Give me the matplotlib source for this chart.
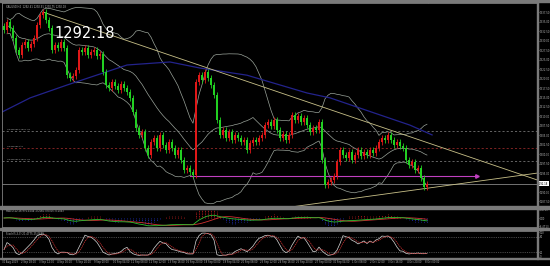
import numpy as np
import pandas as pd
import matplotlib
matplotlib.use("Agg")
import matplotlib.pyplot as plt
from matplotlib.patches import Rectangle
from matplotlib.transforms import blended_transform_factory as blend

W, H = 550, 266

# H4 closes
closes = [1332.9, 1335.0, 1333.4, 1330.7, 1327.6, 1326.2, 1328.9, 1329.7, 1328.1, 1329.2,
          1330.7, 1334.2, 1336.8, 1337.6, 1335.5, 1333.4, 1327.6, 1328.9, 1328.1, 1329.7,
          1328.1, 1320.9, 1320.2, 1320.7, 1322.3, 1327.6, 1327.0, 1328.1, 1326.2, 1327.0,
          1327.6, 1326.0, 1326.5, 1321.7, 1318.3, 1317.5, 1319.1, 1318.0, 1317.0, 1318.6,
          1317.5, 1316.5, 1314.9, 1311.2, 1306.9, 1305.1, 1305.9, 1301.6, 1299.8, 1303.2,
          1304.3, 1301.6, 1305.1, 1302.4, 1301.1, 1303.2, 1301.6, 1299.8, 1301.1, 1298.5,
          1295.8, 1296.3, 1295.3, 1294.5, 1319.1, 1320.9, 1319.6, 1321.7, 1320.2, 1318.3,
          1315.7, 1309.0, 1305.1, 1306.4, 1304.3, 1305.9, 1303.8, 1305.1, 1304.3, 1303.2,
          1303.8, 1301.1, 1303.0, 1303.8, 1303.2, 1304.3, 1305.1, 1307.7, 1308.5, 1307.5,
          1309.0, 1306.4, 1304.3, 1305.3, 1303.8, 1305.1, 1310.4, 1309.0, 1310.1, 1308.5,
          1309.6, 1307.7, 1305.9, 1306.9, 1306.4, 1308.5, 1298.5, 1291.8, 1292.6, 1293.2,
          1294.2, 1297.9, 1301.1, 1299.8, 1299.0, 1300.6, 1298.5, 1299.8, 1301.1, 1299.5,
          1300.6, 1299.8, 1301.1, 1300.3, 1301.6, 1303.2, 1304.3, 1303.8, 1305.1, 1303.8,
          1302.4, 1303.2, 1302.2, 1301.6, 1298.5, 1297.1, 1297.9, 1295.8, 1296.3, 1293.7,
          1291.3, 1292.18]
first_open = 1334.0

# long moving average (blue), sampled along the chart
ma_idx = [-1.3, 8.7, 21, 41, 55.3, 65.3, 81, 101, 108.7, 125.3, 135.3, 142.7]
ma_val = [1310.9, 1314.9, 1318.3, 1323.6, 1324.4, 1322.8, 1320.9, 1316.2, 1314.9, 1310.4, 1307.7, 1305.1]

trend_down = ([13, 177.7], [1337.6, 1293.2])
trend_up = ([95.3, 177.7], [1286.0, 1295.0])

order_levels = [1306.1, 1301.6, 1298.2]
order_labels = ["#44590512 sell 1.00", "#44590512 tp", "#44590513 sell 1.00"]
order_colors = ["#8c8c8c", "#b03030", "#8c8c8c"]

alert_level = 1294.2
alert_span = [62, 157.7]
last_price = 1292.18

date_labels = ["30 Aug 2019", "2 Sep 08:00", "3 Sep 12:00", "4 Sep 16:00", "5 Sep 20:00",
               "9 Sep 00:00", "10 Sep 04:00", "11 Sep 08:00", "12 Sep 12:00", "13 Sep 16:00",
               "16 Sep 20:00", "18 Sep 00:00", "19 Sep 04:00", "20 Sep 08:00", "23 Sep 12:00",
               "24 Sep 16:00", "25 Sep 20:00", "27 Sep 00:00", "30 Sep 04:00", "1 Oct 08:00",
               "2 Oct 12:00", "3 Oct 16:00", "4 Oct 20:00", "8 Oct 00:00"]

GREY = "#808080"
TXT = "#b8b8b8"
FS = 1.8


def px(x0, y0, x1, y1):
    return [x0 / W, 1 - y1 / H, (x1 - x0) / W, (y1 - y0) / H]


def style(a):
    a.set_facecolor("black")
    for s in a.spines.values():
        s.set_color(GREY)
        s.set_linewidth(0.6)
    a.set_xticks([])
    a.yaxis.tick_right()
    a.tick_params(axis="y", labelsize=FS, colors=TXT, length=1.2, width=0.4, pad=0.6)
    a.set_xlim(-0.667, 177.67)


c = np.array(closes)
o = np.array([first_open] + closes[:-1])
idx = np.arange(len(c))
up = c >= o
wick = 0.8
hi = np.maximum(o, c) + wick
lo = np.minimum(o, c) - wick
cols = np.where(up, "#e01818", "#22d022")

fig = plt.figure(figsize=(W / 100, H / 100), dpi=100, facecolor="black")
ax = fig.add_axes(px(2, 3, 537, 206))
ax_m = fig.add_axes(px(2, 209, 537, 227))
ax_s = fig.add_axes(px(2, 231, 537, 258))
for a in (ax, ax_m, ax_s):
    style(a)

# --- main panel
ax.set_ylim(1286.3, 1340.0)
yt = [t for t in np.arange(1287.5, 1340, 2.5) if abs(t - last_price) > 1.2]
ax.set_yticks(yt)
ax.yaxis.set_major_formatter(plt.FormatStrFormatter("%.2f"))

s = pd.Series(c)
mid = s.rolling(20, min_periods=2).mean()
sd = s.rolling(20, min_periods=2).std(ddof=0)
for band in (mid + 2 * sd, mid, mid - 2 * sd):
    ax.plot(idx, band, color="#9aa39a", lw=0.5, zorder=2)

ax.plot(ma_idx, ma_val, color="#23238c", lw=0.9, zorder=2)
ax.plot(*trend_down, color="#c8c088", lw=0.6, zorder=3)
ax.plot(*trend_up, color="#c8c088", lw=0.6, zorder=3)

for lvl, lab, col in zip(order_levels, order_labels, order_colors):
    ax.axhline(lvl, color=col, lw=0.5, ls=(0, (3, 3)), zorder=1)
    ax.text(1, lvl + 0.3, lab, color=TXT, fontsize=1.6, va="bottom", ha="left")

ax.plot(alert_span, [alert_level] * 2, color="#c040c0", lw=0.8, zorder=3)
ax.plot(alert_span[1], alert_level, marker=">", color="#c040c0", ms=2.5, zorder=3)
ax.axhline(last_price, color="#a0a0a0", lw=0.5, zorder=1)

ax.vlines(idx, lo, hi, colors=cols, lw=0.6, zorder=4)
ax.bar(idx, c - o, bottom=o, width=0.62, color=cols, lw=0, zorder=5)

ax.text(0.6, 1339.6, "XAUUSD,H4  1292.41 1292.91 1290.75 1292.18", color=TXT,
        fontsize=FS, va="top", ha="left")
ax.text(27, 1332.0, "1292.18", color="white", fontsize=10.5, va="center", ha="center")
ax.text(1.002, last_price, "1292.18", transform=blend(ax.transAxes, ax.transData),
        fontsize=FS, color="black", va="center", ha="left",
        bbox=dict(facecolor="white", edgecolor="none", pad=0.3))

# --- MACD panel
ema12 = s.ewm(span=12, adjust=False).mean()
ema26 = s.ewm(span=26, adjust=False).mean()
macd = ema12 - ema26
signal = macd.rolling(9, min_periods=1).mean()
hist = macd - signal
m = np.nanmax(np.abs(macd)) * 1.15
ax_m.set_ylim(-m, m)
ax_m.set_yticks([-m * 0.9, 0, m * 0.9])
ax_m.set_yticklabels(["-%.4f" % (m * 0.9), "0.00", "%.4f" % (m * 0.9)])
hc = np.where(hist >= 0, "#d02020", "#2030c0")
ax_m.vlines(idx, 0, hist * 3, colors=hc, lw=0.6, linestyles=(0, (1, 1)))
ax_m.plot(idx, signal, color="#d03030", lw=0.6)
ax_m.plot(idx, macd, color="#30c030", lw=0.6)
ax_m.text(0.6, m * 0.95, "MACD(12,26,9) 0.4244 -0.2061 0.6305 -0.1063", color=TXT,
          fontsize=FS, va="top", ha="left")

# --- Stochastic panel
low5 = pd.Series(lo).rolling(5, min_periods=1).min()
high5 = pd.Series(hi).rolling(5, min_periods=1).max()
k = 100 * (s - low5).rolling(3, min_periods=1).sum() / (high5 - low5).rolling(3, min_periods=1).sum()
d = k.rolling(3, min_periods=1).mean()
ax_s.set_ylim(-4, 104)
ax_s.set_yticks([0, 20, 80, 100])
ax_s.set_yticklabels(["0", "20", "80", "100"])
ax_s.axhline(80, color=GREY, lw=0.4, ls=(0, (2, 2)))
ax_s.axhline(20, color=GREY, lw=0.4, ls=(0, (2, 2)))
ax_s.plot(idx, k, color="#d8d8d8", lw=0.5)
ax_s.plot(idx, d, color="#d03030", lw=0.5, ls=(0, (2, 1)))
ax_s.text(0.6, 101, "Stoch(5,3,3) 21.4775 25.0889", color=TXT, fontsize=FS, va="top", ha="left")

tr = blend(ax_s.transData, ax_s.transAxes)
for n, lab in enumerate(date_labels):
    ax_s.text(n * 6.13 - 0.6, -0.14, lab, transform=tr, color=TXT, fontsize=FS,
              va="center", ha="left", clip_on=False)

# frame bars between panels
for y0, y1 in [(0, 2), (206, 208.5), (227.5, 230), (258, 259)]:
    fig.patches.append(Rectangle((0, 1 - y1 / H), 1, (y1 - y0) / H,
                                 transform=fig.transFigure, color="#7a7a7a", zorder=10))
fig.patches.append(Rectangle((537 / W, 1 - 259 / H), 1 / W, 259 / H,
                             transform=fig.transFigure, color="#7a7a7a", zorder=10))
fig.text(429 / W, 1 - 3 / H, "\u25bc", color="#a0a0a0", fontsize=3, ha="center", va="center")

fig.savefig("out.png", dpi=100, facecolor="black")
